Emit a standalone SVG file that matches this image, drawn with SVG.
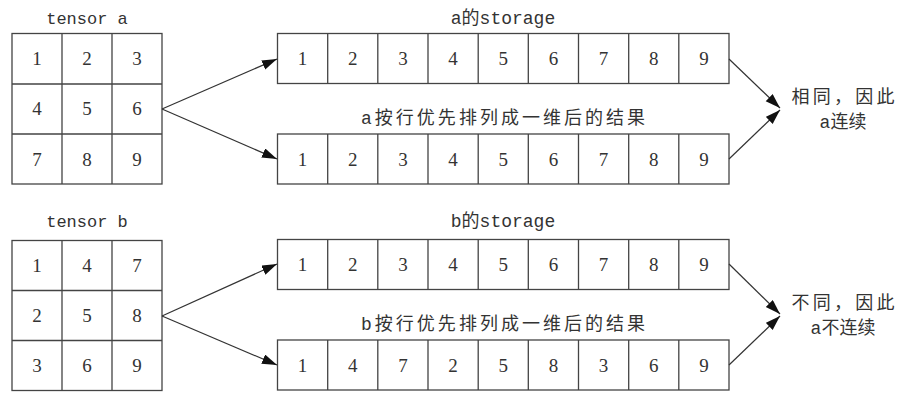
<svg xmlns="http://www.w3.org/2000/svg" width="921" height="403" viewBox="0 0 921 403">
<style>
.cell{fill:#fff;stroke:#444;stroke-width:1.3}
.num{font-family:"Liberation Serif",serif;font-size:19px;fill:#333;text-anchor:middle}
.mono{font-family:"Liberation Mono","Noto Sans CJK SC",monospace;font-size:17px;fill:#333;text-anchor:middle}
.cjk{font-family:"Liberation Mono","Noto Sans CJK SC",sans-serif;font-size:18px;fill:#333;text-anchor:middle}
.conn{stroke:#333;stroke-width:1.2;fill:none;marker-end:url(#ah)}
</style>
<defs>
<marker id="ah" markerWidth="16" markerHeight="12" refX="15" refY="5" orient="auto" markerUnits="userSpaceOnUse">
<path d="M0,0 L15,5 L0,10 Z" fill="#111"/>
</marker>
</defs>
<rect width="921" height="403" fill="#fff"/>

<g id="tensorA">
<text class="mono" x="87" y="24">tensor a</text>
<rect class="cell" x="12" y="33.5" width="150" height="150.5"/>
<path class="cell" d="M62,33.5V184M112,33.5V184M12,84H162M12,134H162"/>
<text class="num" x="37" y="65">1</text><text class="num" x="87" y="65">2</text><text class="num" x="137" y="65">3</text>
<text class="num" x="37" y="115">4</text><text class="num" x="87" y="115">5</text><text class="num" x="137" y="115">6</text>
<text class="num" x="37" y="166">7</text><text class="num" x="87" y="166">8</text><text class="num" x="137" y="166">9</text>
</g>

<g id="storageA">
<text class="cjk" x="503" y="24">a的storage</text>
<rect class="cell" x="277.5" y="33.5" width="451.5" height="50"/>
<path class="cell" d="M327.7,33.5v50M377.8,33.5v50M428,33.5v50M478.2,33.5v50M528.3,33.5v50M578.5,33.5v50M628.7,33.5v50M678.8,33.5v50"/>
<text class="num" x="302.6" y="65">1</text><text class="num" x="352.8" y="65">2</text><text class="num" x="402.9" y="65">3</text><text class="num" x="453.1" y="65">4</text><text class="num" x="503.3" y="65">5</text><text class="num" x="553.4" y="65">6</text><text class="num" x="603.6" y="65">7</text><text class="num" x="653.8" y="65">8</text><text class="num" x="703.9" y="65">9</text>
</g>

<g id="rowmajorA">
<text class="cjk" x="503" y="124" textLength="284" lengthAdjust="spacing">a按行优先排列成一维后的结果</text>
<rect class="cell" x="277.5" y="134" width="451.5" height="50"/>
<path class="cell" d="M327.7,134v50M377.8,134v50M428,134v50M478.2,134v50M528.3,134v50M578.5,134v50M628.7,134v50M678.8,134v50"/>
<text class="num" x="302.6" y="166">1</text><text class="num" x="352.8" y="166">2</text><text class="num" x="402.9" y="166">3</text><text class="num" x="453.1" y="166">4</text><text class="num" x="503.3" y="166">5</text><text class="num" x="553.4" y="166">6</text><text class="num" x="603.6" y="166">7</text><text class="num" x="653.8" y="166">8</text><text class="num" x="703.9" y="166">9</text>
</g>

<g id="resultA">
<text class="cjk" x="843" y="103" textLength="103" lengthAdjust="spacing">相同，因此</text>
<text class="cjk" x="843" y="128">a连续</text>
</g>

<g id="tensorB">
<text class="mono" x="87" y="227">tensor b</text>
<rect class="cell" x="12" y="240.5" width="150" height="150"/>
<path class="cell" d="M62,240.5V390.5M112,240.5V390.5M12,290.5H162M12,340.5H162"/>
<text class="num" x="37" y="272">1</text><text class="num" x="87" y="272">4</text><text class="num" x="137" y="272">7</text>
<text class="num" x="37" y="322">2</text><text class="num" x="87" y="322">5</text><text class="num" x="137" y="322">8</text>
<text class="num" x="37" y="372">3</text><text class="num" x="87" y="372">6</text><text class="num" x="137" y="372">9</text>
</g>

<g id="storageB">
<text class="cjk" x="503" y="227">b的storage</text>
<rect class="cell" x="277.5" y="239.5" width="451.5" height="50"/>
<path class="cell" d="M327.7,239.5v50M377.8,239.5v50M428,239.5v50M478.2,239.5v50M528.3,239.5v50M578.5,239.5v50M628.7,239.5v50M678.8,239.5v50"/>
<text class="num" x="302.6" y="271">1</text><text class="num" x="352.8" y="271">2</text><text class="num" x="402.9" y="271">3</text><text class="num" x="453.1" y="271">4</text><text class="num" x="503.3" y="271">5</text><text class="num" x="553.4" y="271">6</text><text class="num" x="603.6" y="271">7</text><text class="num" x="653.8" y="271">8</text><text class="num" x="703.9" y="271">9</text>
</g>

<g id="rowmajorB">
<text class="cjk" x="503" y="330" textLength="284" lengthAdjust="spacing">b按行优先排列成一维后的结果</text>
<rect class="cell" x="277.5" y="340" width="451.5" height="50"/>
<path class="cell" d="M327.7,340v50M377.8,340v50M428,340v50M478.2,340v50M528.3,340v50M578.5,340v50M628.7,340v50M678.8,340v50"/>
<text class="num" x="302.6" y="372">1</text><text class="num" x="352.8" y="372">4</text><text class="num" x="402.9" y="372">7</text><text class="num" x="453.1" y="372">2</text><text class="num" x="503.3" y="372">5</text><text class="num" x="553.4" y="372">8</text><text class="num" x="603.6" y="372">3</text><text class="num" x="653.8" y="372">6</text><text class="num" x="703.9" y="372">9</text>
</g>

<g id="resultB">
<text class="cjk" x="843" y="309" textLength="103" lengthAdjust="spacing">不同，因此</text>
<text class="cjk" x="843" y="334">a不连续</text>
</g>

<g id="connectors">
<path class="conn" d="M162,109L277,59"/>
<path class="conn" d="M162,109L277,159"/>
<path class="conn" d="M729,59L780,108"/>
<path class="conn" d="M729,159L780,110"/>
<path class="conn" d="M162,316L277,264"/>
<path class="conn" d="M162,316L277,365"/>
<path class="conn" d="M729,264L780,314"/>
<path class="conn" d="M729,365L780,316"/>
</g>
</svg>
